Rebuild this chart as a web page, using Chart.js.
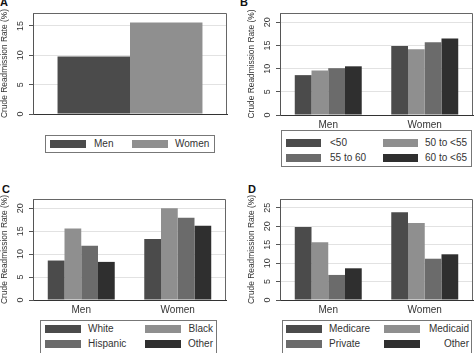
<!DOCTYPE html>
<html>
<head>
<meta charset="utf-8">
<script src="https://cdn.jsdelivr.net/npm/chart.js@4"></script>
<style>
html, body { margin: 0; padding: 0; background: #fff; }
body { width: 474px; height: 353px; position: relative; overflow: hidden; font-family: 'Liberation Sans', Arial, sans-serif; color: #333; }
canvas { position: absolute; }
.letter { position: absolute; font-weight: bold; font-size: 11px; line-height: 11px; color: #111; }
.legend { position: absolute; border: 1px solid #777; box-sizing: border-box; background: #fff; }
.sw { position: absolute; height: 8px; }
.lt { position: absolute; font-size: 10px; line-height: 10px; white-space: nowrap; color: #333; }
</style>
</head>
<body>
<div class="letter" style="left:0px;top:-3px">A</div>
<div class="letter" style="left:240px;top:-3px">B</div>
<div class="letter" style="left:2px;top:184px">C</div>
<div class="letter" style="left:248px;top:184px">D</div>
<canvas id="cA" width="237" height="176" style="left:0;top:0"></canvas>
<canvas id="cB" width="237" height="176" style="left:237px;top:0"></canvas>
<canvas id="cC" width="237" height="177" style="left:0;top:176px"></canvas>
<canvas id="cD" width="237" height="177" style="left:237px;top:176px"></canvas>
<script>
const groups = ["Men", "Women"];
const yTitle = "Crude Readmission Rate (%)";

// A: by sex
const sexLabels = ["Men", "Women"];
const sexValues = [9.8, 15.6];

// B: by age
const ageLabels = ["<50", "50 to <55", "55 to 60", "60 to <65"];
const ageMen = [8.6, 9.6, 10.1, 10.5];
const ageWomen = [14.9, 14.2, 15.7, 16.5];

// C: by race
const raceLabels = ["White", "Black", "Hispanic", "Other"];
const raceMen = [8.6, 15.6, 11.8, 8.3];
const raceWomen = [13.3, 20.0, 17.9, 16.2];

// D: by payer
const payerLabels = ["Medicare", "Medicaid", "Private", "Other"];
const payerMen = [19.8, 15.7, 6.8, 8.6];
const payerWomen = [23.8, 20.9, 11.2, 12.4];

const yMaxA = 17.2, yMaxB = 22, yMaxC = 22, yMaxD = 27.4;

const grays = ["#4b4b4b", "#8f8f8f", "#6b6b6b", "#2f2f2f"];
const chartFont = "'Liberation Sans', Arial, sans-serif";

const axisText = {
    id: "axisText",
    afterDraw(chart) {
        const ctx = chart.ctx;
        const a = chart.chartArea;
        const y = chart.scales.y;
        ctx.save();
        // plot region outline (top + right)
        ctx.strokeStyle = "#666";
        ctx.lineWidth = 1;
        ctx.beginPath();
        ctx.moveTo(a.left, Math.round(a.top) + 0.5);
        ctx.lineTo(Math.round(a.right) - 0.5, Math.round(a.top) + 0.5);
        ctx.lineTo(Math.round(a.right) - 0.5, a.bottom);
        ctx.stroke();

        ctx.fillStyle = "#333";
        ctx.textAlign = "center";
        ctx.textBaseline = "middle";
        ctx.font = "9px " + chartFont;
        y.ticks.forEach(t => {
            const py = y.getPixelForValue(t.value);
            ctx.save();
            ctx.translate(a.left - 12, py);
            ctx.rotate(-Math.PI / 2);
            ctx.fillText(String(t.value), 0, 0);
            ctx.restore();
        });
        ctx.font = "8.4px " + chartFont;
        ctx.save();
        ctx.translate(a.left - 28.5, (a.top + a.bottom) / 2);
        ctx.rotate(-Math.PI / 2);
        ctx.fillText(yTitle, 0, 0);
        ctx.restore();
        ctx.restore();
    }
};

function makeChart(id, labels, datasets, yMax, box, catPct) {
    const canvas = document.getElementById(id);
    return new Chart(canvas, {
        type: "bar",
        data: { labels: labels, datasets: datasets },
        options: {
            responsive: false,
            animation: false,
            devicePixelRatio: 1,
            layout: { padding: { left: box.left, top: box.top, right: box.right, bottom: 0 } },
            plugins: { legend: { display: false }, tooltip: { enabled: false } },
            datasets: { bar: { barPercentage: 1, categoryPercentage: catPct, borderWidth: 0 } },
            scales: {
                x: {
                    grid: { display: false, drawTicks: false },
                    border: { color: "#333", width: 1 },
                    ticks: { color: "#333", padding: 4, font: { family: chartFont, size: 10 } },
                    afterFit: s => { s.height = canvas.height - box.bottom; }
                },
                y: {
                    min: 0,
                    max: yMax,
                    border: { color: "#555", width: 1 },
                    grid: {
                        color: c => (c.tick && c.tick.value === 0) ? "rgba(0,0,0,0)" : "#e2e2e2",
                        tickColor: "#555",
                        tickLength: 4
                    },
                    ticks: { display: false, stepSize: 5, includeBounds: false },
                    afterFit: s => { s.width = 33; }
                }
            }
        },
        plugins: [axisText]
    });
}

function byGroup(names, men, women) {
    return names.map((n, i) => ({
        label: n,
        data: [men[i], women[i]],
        backgroundColor: grays[i]
    }));
}

makeChart("cA", [""], sexLabels.map((n, i) => ({
    label: n, data: [sexValues[i]], backgroundColor: grays[i]
})), yMaxA, { left: 0, top: 13, right: 10, bottom: 114 }, 0.747);

makeChart("cB", groups, byGroup(ageLabels, ageMen, ageWomen), yMaxB,
    { left: 10, top: 13, right: 1, bottom: 115 }, 0.694);

makeChart("cC", groups, byGroup(raceLabels, raceMen, raceWomen), yMaxC,
    { left: 0, top: 23, right: 11, bottom: 124 }, 0.694);

makeChart("cD", groups, byGroup(payerLabels, payerMen, payerWomen), yMaxD,
    { left: 10, top: 23, right: 1, bottom: 124 }, 0.694);

// legends (HTML boxes)
function makeLegend(labels, box, cols, rows, swW) {
    const div = document.createElement("div");
    div.className = "legend";
    div.style.left = box.left + "px";
    div.style.top = box.top + "px";
    div.style.width = box.width + "px";
    div.style.height = box.height + "px";
    labels.forEach((lab, i) => {
        const col = cols[i % cols.length];
        const rowY = rows[Math.floor(i / cols.length)];
        const sw = document.createElement("div");
        sw.className = "sw";
        sw.style.left = (col.sw - 1) + "px";
        sw.style.top = (rowY - 1) + "px";
        sw.style.width = swW + "px";
        sw.style.background = grays[i];
        div.appendChild(sw);
        const t = document.createElement("div");
        t.className = "lt";
        t.textContent = lab;
        t.style.top = (rowY - 2) + "px";
        if (col.textRight !== undefined) t.style.right = (col.textRight - 1) + "px";
        else t.style.left = (col.text - 1) + "px";
        div.appendChild(t);
    });
    document.body.appendChild(div);
}

makeLegend(sexLabels, { left: 45, top: 135, width: 170, height: 18 },
    [{ sw: 5, text: 49 }, { sw: 87, text: 130 }], [5], 36);
makeLegend(ageLabels, { left: 281, top: 130, width: 191, height: 37 },
    [{ sw: 5, text: 49 }, { sw: 102, textRight: 5 }], [9, 24], 35);
makeLegend(raceLabels, { left: 40, top: 320, width: 177, height: 40 },
    [{ sw: 5, text: 48 }, { sw: 105, textRight: 4 }], [5, 19.5], 36);
makeLegend(payerLabels, { left: 282, top: 320, width: 190, height: 40 },
    [{ sw: 4, text: 47 }, { sw: 102, textRight: 3 }], [5, 19.5], 36);
</script>
</body>
</html>
